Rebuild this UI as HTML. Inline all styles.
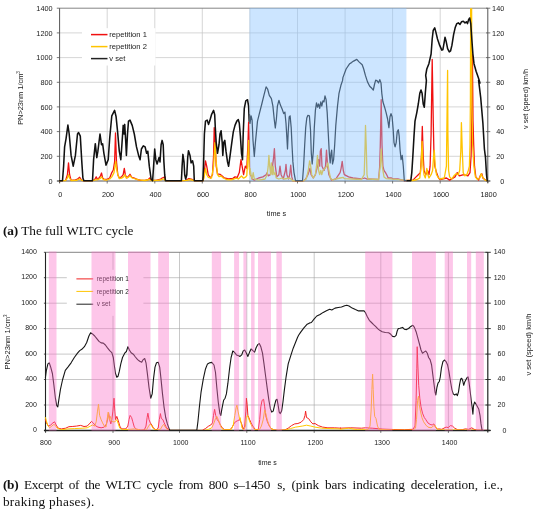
<!DOCTYPE html>
<html lang="en"><head><meta charset="utf-8"><title>WLTC cycle</title>
<style>
html,body{margin:0;padding:0;background:#fff}
body{width:550px;height:513px;overflow:hidden;position:relative}
svg{display:block;position:absolute;left:0;top:0}
.t{font-family:"Liberation Sans",sans-serif;fill:#1a1a1a}
.c{font-family:"Liberation Serif",serif;fill:#111}
</style></head><body>

<svg width="550" height="513" viewBox="0 0 550 513">
<rect x="0" y="0" width="550" height="513" fill="#fff"/>
<g id="chartA">
<line x1="59.6" y1="156.3" x2="487.8" y2="156.3" stroke="#c4c4c4" stroke-width="0.7"/>
<line x1="59.6" y1="131.6" x2="487.8" y2="131.6" stroke="#c4c4c4" stroke-width="0.7"/>
<line x1="59.6" y1="106.9" x2="487.8" y2="106.9" stroke="#c4c4c4" stroke-width="0.7"/>
<line x1="59.6" y1="82.3" x2="487.8" y2="82.3" stroke="#c4c4c4" stroke-width="0.7"/>
<line x1="59.6" y1="57.6" x2="487.8" y2="57.6" stroke="#c4c4c4" stroke-width="0.7"/>
<line x1="59.6" y1="32.9" x2="487.8" y2="32.9" stroke="#c4c4c4" stroke-width="0.7"/>
<line x1="107.2" y1="8.2" x2="107.2" y2="181.0" stroke="#c4c4c4" stroke-width="0.7"/>
<line x1="154.8" y1="8.2" x2="154.8" y2="181.0" stroke="#c4c4c4" stroke-width="0.7"/>
<line x1="202.3" y1="8.2" x2="202.3" y2="181.0" stroke="#c4c4c4" stroke-width="0.7"/>
<line x1="249.9" y1="8.2" x2="249.9" y2="181.0" stroke="#c4c4c4" stroke-width="0.7"/>
<line x1="297.5" y1="8.2" x2="297.5" y2="181.0" stroke="#c4c4c4" stroke-width="0.7"/>
<line x1="345.1" y1="8.2" x2="345.1" y2="181.0" stroke="#c4c4c4" stroke-width="0.7"/>
<line x1="392.6" y1="8.2" x2="392.6" y2="181.0" stroke="#c4c4c4" stroke-width="0.7"/>
<line x1="440.2" y1="8.2" x2="440.2" y2="181.0" stroke="#c4c4c4" stroke-width="0.7"/>
<line x1="59.6" y1="8.2" x2="487.8" y2="8.2" stroke="#777" stroke-width="0.9"/>
<rect x="82" y="28.2" width="73.5" height="37.3" fill="#fff"/>
<line x1="59.6" y1="8.2" x2="59.6" y2="183.0" stroke="#555" stroke-width="1"/>
<line x1="487.8" y1="8.2" x2="487.8" y2="183.0" stroke="#555" stroke-width="1"/>
<line x1="57.1" y1="181.0" x2="490.3" y2="181.0" stroke="#555" stroke-width="1.2"/>
<line x1="56.8" y1="181.0" x2="59.6" y2="181.0" stroke="#555" stroke-width="0.8"/>
<line x1="486.0" y1="181.0" x2="490.3" y2="181.0" stroke="#555" stroke-width="0.8"/>
<text class="t" x="52.6" y="183.6" font-size="7.3" text-anchor="end">0</text>
<text class="t" x="504.3" y="183.6" font-size="7.3" text-anchor="end">0</text>
<line x1="56.8" y1="156.3" x2="59.6" y2="156.3" stroke="#555" stroke-width="0.8"/>
<line x1="486.0" y1="156.3" x2="490.3" y2="156.3" stroke="#555" stroke-width="0.8"/>
<text class="t" x="52.6" y="158.9" font-size="7.3" text-anchor="end">200</text>
<text class="t" x="504.3" y="158.9" font-size="7.3" text-anchor="end">20</text>
<line x1="56.8" y1="131.6" x2="59.6" y2="131.6" stroke="#555" stroke-width="0.8"/>
<line x1="486.0" y1="131.6" x2="490.3" y2="131.6" stroke="#555" stroke-width="0.8"/>
<text class="t" x="52.6" y="134.2" font-size="7.3" text-anchor="end">400</text>
<text class="t" x="504.3" y="134.2" font-size="7.3" text-anchor="end">40</text>
<line x1="56.8" y1="106.9" x2="59.6" y2="106.9" stroke="#555" stroke-width="0.8"/>
<line x1="486.0" y1="106.9" x2="490.3" y2="106.9" stroke="#555" stroke-width="0.8"/>
<text class="t" x="52.6" y="109.5" font-size="7.3" text-anchor="end">600</text>
<text class="t" x="504.3" y="109.5" font-size="7.3" text-anchor="end">60</text>
<line x1="56.8" y1="82.3" x2="59.6" y2="82.3" stroke="#555" stroke-width="0.8"/>
<line x1="486.0" y1="82.3" x2="490.3" y2="82.3" stroke="#555" stroke-width="0.8"/>
<text class="t" x="52.6" y="84.9" font-size="7.3" text-anchor="end">800</text>
<text class="t" x="504.3" y="84.9" font-size="7.3" text-anchor="end">80</text>
<line x1="56.8" y1="57.6" x2="59.6" y2="57.6" stroke="#555" stroke-width="0.8"/>
<line x1="486.0" y1="57.6" x2="490.3" y2="57.6" stroke="#555" stroke-width="0.8"/>
<text class="t" x="52.6" y="60.2" font-size="7.3" text-anchor="end">1000</text>
<text class="t" x="504.3" y="60.2" font-size="7.3" text-anchor="end">100</text>
<line x1="56.8" y1="32.9" x2="59.6" y2="32.9" stroke="#555" stroke-width="0.8"/>
<line x1="486.0" y1="32.9" x2="490.3" y2="32.9" stroke="#555" stroke-width="0.8"/>
<text class="t" x="52.6" y="35.5" font-size="7.3" text-anchor="end">1200</text>
<text class="t" x="504.3" y="35.5" font-size="7.3" text-anchor="end">120</text>
<line x1="56.8" y1="8.2" x2="59.6" y2="8.2" stroke="#555" stroke-width="0.8"/>
<line x1="486.0" y1="8.2" x2="490.3" y2="8.2" stroke="#555" stroke-width="0.8"/>
<text class="t" x="52.6" y="10.8" font-size="7.3" text-anchor="end">1400</text>
<text class="t" x="504.3" y="10.8" font-size="7.3" text-anchor="end">140</text>
<line x1="59.6" y1="181.0" x2="59.6" y2="183.5" stroke="#555" stroke-width="0.8"/>
<text class="t" x="60.4" y="197.1" font-size="7.3" text-anchor="middle">0</text>
<line x1="107.2" y1="181.0" x2="107.2" y2="183.5" stroke="#555" stroke-width="0.8"/>
<text class="t" x="108.0" y="197.1" font-size="7.3" text-anchor="middle">200</text>
<line x1="154.8" y1="181.0" x2="154.8" y2="183.5" stroke="#555" stroke-width="0.8"/>
<text class="t" x="155.6" y="197.1" font-size="7.3" text-anchor="middle">400</text>
<line x1="202.3" y1="181.0" x2="202.3" y2="183.5" stroke="#555" stroke-width="0.8"/>
<text class="t" x="203.1" y="197.1" font-size="7.3" text-anchor="middle">600</text>
<line x1="249.9" y1="181.0" x2="249.9" y2="183.5" stroke="#555" stroke-width="0.8"/>
<text class="t" x="250.7" y="197.1" font-size="7.3" text-anchor="middle">800</text>
<line x1="297.5" y1="181.0" x2="297.5" y2="183.5" stroke="#555" stroke-width="0.8"/>
<text class="t" x="298.3" y="197.1" font-size="7.3" text-anchor="middle">1000</text>
<line x1="345.1" y1="181.0" x2="345.1" y2="183.5" stroke="#555" stroke-width="0.8"/>
<text class="t" x="345.9" y="197.1" font-size="7.3" text-anchor="middle">1200</text>
<line x1="392.6" y1="181.0" x2="392.6" y2="183.5" stroke="#555" stroke-width="0.8"/>
<text class="t" x="393.4" y="197.1" font-size="7.3" text-anchor="middle">1400</text>
<line x1="440.2" y1="181.0" x2="440.2" y2="183.5" stroke="#555" stroke-width="0.8"/>
<text class="t" x="441.0" y="197.1" font-size="7.3" text-anchor="middle">1600</text>
<line x1="487.8" y1="181.0" x2="487.8" y2="183.5" stroke="#555" stroke-width="0.8"/>
<text class="t" x="488.6" y="197.1" font-size="7.3" text-anchor="middle">1800</text>
<text class="t" x="276.5" y="215.6" font-size="7.3" text-anchor="middle">time s</text>
<text class="t" transform="translate(22.6,98) rotate(-90)" font-size="7.4" text-anchor="middle">PN&gt;23nm 1/cm<tspan font-size="4.6" dy="-2.6">3</tspan></text>
<text class="t" transform="translate(527.8,99) rotate(-90)" font-size="7.3" text-anchor="middle">v set (speed) km/h</text>
<clipPath id="clipA"><rect x="58.6" y="8.2" width="430.2" height="173.8"/></clipPath>
<g clip-path="url(#clipA)">
<polyline points="59.7,180.7 65.7,180.3 67.4,174.7 68.5,162.9 69.6,174.7 71.1,180.3 75.4,179.9 77.5,179.0 79.7,177.3 81.2,179.5 82.9,180.7 92.5,180.7 94.7,179.5 96.2,176.9 97.5,179.5 99.0,178.0 100.5,175.8 101.5,173.0 102.6,178.0 104.3,179.5 106.5,179.5 109.7,178.0 111.8,172.6 113.3,170.0 114.6,161.9 115.5,132.9 116.5,161.9 117.8,174.7 119.3,178.0 121.5,176.9 123.2,174.7 124.3,168.3 125.3,174.7 126.8,178.0 129.0,175.8 130.0,174.3 131.8,177.3 134.3,178.2 137.5,179.5 140.8,180.3 145.1,180.3 148.3,179.5 149.8,178.0 151.1,180.3 155.8,180.3 160.1,179.5 162.2,178.0 165.0,176.9 164.7,179.5 166.4,180.7 181.4,180.7 185.7,180.3 188.9,178.6 192.2,179.5 194.3,180.7 202.9,180.7 204.0,174.7 205.5,160.8 206.7,166.2 208.2,174.7 210.4,178.0 212.5,174.7 213.6,155.4 214.2,127.6 215.3,144.7 216.2,166.2 217.5,173.9 220.0,174.3 222.2,176.0 224.3,178.0 228.6,179.0 232.9,178.4 235.0,176.9 237.2,177.5 239.3,172.6 241.0,159.7 242.1,166.2 243.6,174.7 245.3,166.2 246.8,168.3 247.9,144.7 248.6,122.2 249.2,144.7 249.6,170.5 250.5,174.7 251.1,175.8 252.1,179.0 254.3,180.1 258.6,178.0 262.9,176.9 266.1,174.7 267.2,172.6 268.2,175.8 270.4,174.7 272.5,166.2 273.6,157.6 274.4,148.6 275.3,166.2 276.8,176.9 278.9,174.7 280.0,166.2 281.1,174.7 283.2,179.0 285.4,170.5 286.0,164.4 286.9,174.7 288.6,179.0 289.7,174.7 290.7,165.1 291.8,176.9 292.9,180.7 303.6,180.7 305.7,179.0 307.9,174.7 310.0,168.3 311.1,174.7 313.3,178.0 315.4,174.7 317.5,166.2 318.6,159.7 319.7,166.2 320.3,151.2 321.2,148.6 322.0,166.2 324.0,170.5 325.5,166.2 326.5,150.1 327.6,166.2 328.9,174.7 331.5,180.1 335.8,179.0 337.9,175.8 340.1,172.6 341.1,168.3 342.2,161.4 343.3,170.5 344.3,174.7 348.6,176.9 352.9,178.0 361.4,179.0 364.7,178.0 366.8,179.0 378.6,179.5 379.7,166.2 380.3,144.7 381.2,99.7 382.0,144.7 382.9,166.2 384.0,170.5 385.5,172.6 386.7,174.7 388.2,178.0 391.5,178.0 393.6,179.0 397.9,179.0 404.3,180.7 412.9,180.1 416.1,176.9 418.3,174.7 420.4,172.6 421.5,155.4 422.3,126.5 423.2,155.4 424.0,170.5 425.8,174.7 427.5,170.5 429.0,174.7 430.1,166.2 431.1,134.0 432.2,59.4 433.3,123.3 433.9,151.2 434.8,166.2 436.5,172.6 438.6,178.0 440.0,179.5 446.4,178.0 449.6,180.1 455.0,176.9 457.2,172.6 459.3,175.8 463.6,174.7 467.9,175.8 470.0,172.6 471.1,155.4 471.7,123.3 472.2,91.1 472.4,54.4 473.0,121.1 473.7,144.7 474.5,166.2 475.8,176.9 478.6,180.1 480.7,174.7 481.8,173.7 482.9,178.0 486.1,180.5" fill="none" stroke="#f01010" stroke-width="1.3" stroke-linejoin="round" stroke-linecap="round" />
<polyline points="59.7,180.7 65.7,180.5 67.4,178.0 68.5,174.7 69.6,178.0 71.1,180.5 76.4,180.3 79.7,179.0 81.8,180.3 83.9,180.7 92.5,180.7 95.7,179.9 97.9,179.5 100.0,178.6 101.5,176.9 103.2,179.5 106.5,180.1 109.7,179.0 111.8,176.9 114.0,172.6 115.0,166.2 115.7,161.4 116.5,168.3 117.8,174.7 119.3,178.6 121.9,178.0 123.6,176.9 124.9,174.7 126.2,178.0 128.3,177.3 130.0,175.8 132.2,178.0 135.4,179.0 138.6,179.9 145.1,180.5 149.3,179.5 151.5,180.5 157.9,180.3 162.2,179.5 165.0,178.6 164.7,180.1 166.4,180.7 181.4,180.7 186.8,180.3 190.0,179.5 194.3,180.7 202.9,180.7 204.0,178.0 205.5,168.3 206.7,174.7 208.2,177.3 211.5,178.2 213.6,166.2 214.9,142.6 216.2,161.9 217.5,174.7 219.0,176.5 221.1,176.0 223.3,178.0 226.5,179.5 230.8,179.9 234.0,179.0 236.1,178.2 238.3,179.0 241.5,176.0 243.6,178.2 245.8,176.9 246.8,175.6 247.9,155.4 248.6,140.4 249.2,166.2 250.1,174.7 250.0,168.3 251.1,174.7 252.1,179.0 253.2,172.6 254.3,179.0 258.6,180.1 265.0,179.0 267.2,174.7 268.2,166.2 268.9,155.4 269.7,166.2 270.6,174.7 271.4,162.9 272.3,174.7 273.2,166.2 274.0,174.7 275.3,172.6 276.2,178.0 278.9,179.0 282.2,178.0 284.3,179.0 289.7,178.0 292.9,180.7 303.6,180.7 306.2,179.0 308.3,170.5 309.6,160.8 310.7,166.2 311.7,174.7 313.3,178.0 315.4,174.7 316.5,166.2 317.5,155.4 318.6,170.5 319.7,174.7 320.8,170.5 321.8,174.7 322.9,170.5 325.0,168.3 326.8,166.2 327.8,162.9 328.9,170.5 330.4,178.0 332.5,180.1 335.8,179.0 340.1,178.0 343.3,177.3 344.3,178.6 361.4,179.5 364.2,174.7 365.1,144.7 365.5,125.4 366.2,144.7 367.0,174.7 367.9,179.0 378.6,179.5 380.3,166.2 381.2,149.0 382.2,166.2 384.0,176.9 386.1,178.6 404.3,180.1 412.9,180.5 417.2,179.5 419.8,178.0 421.0,166.2 422.1,141.5 423.0,166.2 424.0,174.7 425.3,178.0 426.8,168.3 427.9,174.7 429.0,178.0 431.1,174.7 432.6,170.5 433.7,155.4 434.3,150.1 435.2,166.2 436.5,174.7 438.6,178.0 440.0,179.0 444.3,178.0 446.4,166.2 447.6,70.5 447.9,134.0 448.6,170.5 449.6,176.9 451.8,179.0 453.9,175.8 456.1,173.7 458.2,174.7 459.7,170.5 460.8,151.2 461.4,122.6 462.3,151.2 463.2,172.6 464.7,175.8 466.8,174.7 468.3,170.5 469.4,166.2 470.0,144.7 470.4,101.8 470.7,0.4 471.6,0.4 471.9,101.8 472.6,144.7 473.9,166.2 475.4,176.9 477.5,179.5 479.7,178.0 481.2,173.7 482.5,176.9 485.0,180.1 487.2,180.7" fill="none" stroke="#ffc400" stroke-width="1.3" stroke-linejoin="round" stroke-linecap="round" />
</g>
<clipPath id="clipAo"><rect x="58.6" y="8.2" width="190.9" height="173.8"/><rect x="406.4" y="8.2" width="82.4" height="173.8"/></clipPath>
<clipPath id="clipAi"><rect x="249.5" y="8.2" width="156.9" height="173.8"/></clipPath>
<g clip-path="url(#clipAo)"><polyline points="59.7,180.7 62.5,180.7 63.6,166.2 64.6,146.9 66.1,138.3 67.9,125.0 69.2,134.0 71.1,155.4 73.2,166.2 75.4,155.4 77.5,134.0 78.6,132.5 80.3,136.1 81.8,161.9 82.9,178.0 83.9,180.7 92.5,180.7 93.6,159.7 95.3,143.7 96.8,157.6 97.9,151.2 100.0,134.0 101.5,144.7 102.6,143.7 103.9,153.3 106.0,165.1 108.2,159.7 109.7,138.3 111.8,115.8 114.6,110.4 116.1,116.8 117.6,131.9 119.3,151.2 120.8,159.7 121.9,144.7 123.2,125.4 124.0,134.0 124.7,124.4 125.8,142.6 126.4,155.4 127.5,134.0 128.5,121.1 130.0,120.1 132.2,125.4 134.3,134.0 136.5,146.9 138.6,155.4 140.1,159.7 141.4,149.0 143.3,145.8 145.1,146.9 146.6,153.3 147.8,151.2 149.3,166.2 151.1,179.0 152.6,180.7 153.6,166.2 154.7,149.0 155.8,159.7 157.1,164.0 159.0,157.6 160.0,161.9 161.1,144.7 162.1,140.4 163.2,144.7 163.9,161.9 164.7,174.7 165.4,180.7 181.4,180.7 182.1,166.2 182.9,154.4 184.0,161.9 184.7,174.7 185.7,179.0 186.8,174.7 187.7,157.6 188.5,150.7 190.0,155.4 191.1,162.9 192.6,160.8 193.7,166.2 194.3,180.7 202.9,180.7 203.5,166.2 204.4,134.0 205.5,121.1 207.2,120.1 208.5,124.4 209.7,121.1 211.5,114.7 213.6,110.4 214.7,114.7 215.3,127.6 216.2,142.6 217.5,153.3 219.0,144.7 220.0,134.0 221.1,130.8 222.2,142.6 222.8,155.4 223.7,142.6 224.8,140.4 226.0,151.2 227.5,161.9 228.6,166.2 230.1,155.4 231.8,142.6 233.3,131.9 235.0,125.4 236.8,121.1 238.3,119.6 239.3,123.3 240.4,136.1 241.5,153.3 242.5,159.7 243.2,134.0 244.3,108.3 245.8,100.8 247.5,99.7 248.6,106.1 249.2,121.1 249.6,114.7 250.0,123.3 251.1,115.8 252.1,120.1 253.0,140.4 254.3,156.5 255.4,142.6 257.5,121.1 259.6,112.6 261.8,104.0 263.9,95.4 266.1,86.8 267.6,89.0 269.3,95.4 271.4,98.6 272.9,106.1 274.2,119.0 275.3,128.0 276.4,119.0 277.4,106.1 278.9,100.3 280.4,105.1 282.2,109.3 283.7,113.6 284.9,112.1 286.0,123.3 286.9,138.3 287.5,149.0 288.2,131.9 289.2,116.8 290.1,115.8 291.2,127.6 292.0,144.7 292.9,161.9 294.0,172.6 295.5,180.7 302.5,180.7 303.6,166.2 304.7,144.7 305.7,127.6 306.8,117.9 307.9,115.3 309.4,115.8 310.5,129.7 311.3,153.3 312.2,164.0 313.3,151.2 314.3,127.6 315.4,110.4 316.5,102.9 317.5,107.2 318.6,104.0 319.7,108.3 320.8,101.8 321.8,106.1 322.9,100.8 324.0,101.8 325.0,95.8 326.1,99.7 327.2,112.6 328.3,134.0 329.3,153.3 330.2,162.9 331.0,153.3 331.7,150.1 332.5,164.0 333.6,159.7 334.7,144.7 335.8,125.4 337.5,106.1 339.0,93.3 341.1,84.7 342.6,80.4 342.9,77.6 346.1,69.0 349.7,63.7 351.5,62.6 353.6,61.1 356.8,59.4 359.0,61.9 362.2,64.7 363.7,69.0 365.4,75.4 367.5,81.9 369.7,86.2 371.8,88.3 373.3,90.0 374.6,84.0 375.7,80.2 377.2,80.8 378.5,82.9 379.8,79.7 381.0,82.9 381.8,93.3 382.9,101.8 384.6,107.2 386.1,112.6 387.6,119.0 388.9,127.6 390.0,116.8 391.0,113.6 392.1,116.8 393.2,129.7 394.0,142.6 395.1,146.9 396.2,142.6 397.2,131.9 398.3,129.7 399.2,136.1 400.0,149.0 401.1,159.7 402.2,155.4 403.3,166.2 404.3,180.7 410.8,180.7 411.8,172.6 412.9,155.4 414.0,136.1 415.0,121.1 416.8,112.6 418.3,104.0 419.8,93.3 421.0,90.0 422.1,93.3 423.2,104.0 424.3,107.2 425.3,93.3 426.4,80.4 425.7,75.4 426.8,69.0 428.9,63.7 431.1,54.0 432.2,39.0 433.2,30.4 434.7,27.8 436.0,32.6 437.5,39.0 439.7,45.4 441.8,50.1 442.9,49.7 444.0,43.3 445.0,37.3 446.1,41.1 447.6,48.6 449.3,51.9 450.6,50.8 451.9,45.4 453.6,34.7 455.3,27.2 456.8,23.6 458.3,22.9 460.0,24.4 461.5,21.8 463.3,21.2 465.0,22.9 466.5,21.8 467.5,23.6 468.6,19.7 469.7,18.0 470.8,24.0 471.8,39.0 472.9,54.0 474.0,63.7 476.1,71.2 478.3,77.6 480.0,82.9 478.6,80.4 480.7,97.6 482.9,123.3 484.4,149.0 485.5,157.6 486.5,174.7 487.2,180.7" fill="none" stroke="#111" stroke-width="1.55" stroke-linejoin="round" stroke-linecap="round" /></g>
<g clip-path="url(#clipAi)"><polyline points="59.7,180.7 62.5,180.7 63.6,166.2 64.6,146.9 66.1,138.3 67.9,125.0 69.2,134.0 71.1,155.4 73.2,166.2 75.4,155.4 77.5,134.0 78.6,132.5 80.3,136.1 81.8,161.9 82.9,178.0 83.9,180.7 92.5,180.7 93.6,159.7 95.3,143.7 96.8,157.6 97.9,151.2 100.0,134.0 101.5,144.7 102.6,143.7 103.9,153.3 106.0,165.1 108.2,159.7 109.7,138.3 111.8,115.8 114.6,110.4 116.1,116.8 117.6,131.9 119.3,151.2 120.8,159.7 121.9,144.7 123.2,125.4 124.0,134.0 124.7,124.4 125.8,142.6 126.4,155.4 127.5,134.0 128.5,121.1 130.0,120.1 132.2,125.4 134.3,134.0 136.5,146.9 138.6,155.4 140.1,159.7 141.4,149.0 143.3,145.8 145.1,146.9 146.6,153.3 147.8,151.2 149.3,166.2 151.1,179.0 152.6,180.7 153.6,166.2 154.7,149.0 155.8,159.7 157.1,164.0 159.0,157.6 160.0,161.9 161.1,144.7 162.1,140.4 163.2,144.7 163.9,161.9 164.7,174.7 165.4,180.7 181.4,180.7 182.1,166.2 182.9,154.4 184.0,161.9 184.7,174.7 185.7,179.0 186.8,174.7 187.7,157.6 188.5,150.7 190.0,155.4 191.1,162.9 192.6,160.8 193.7,166.2 194.3,180.7 202.9,180.7 203.5,166.2 204.4,134.0 205.5,121.1 207.2,120.1 208.5,124.4 209.7,121.1 211.5,114.7 213.6,110.4 214.7,114.7 215.3,127.6 216.2,142.6 217.5,153.3 219.0,144.7 220.0,134.0 221.1,130.8 222.2,142.6 222.8,155.4 223.7,142.6 224.8,140.4 226.0,151.2 227.5,161.9 228.6,166.2 230.1,155.4 231.8,142.6 233.3,131.9 235.0,125.4 236.8,121.1 238.3,119.6 239.3,123.3 240.4,136.1 241.5,153.3 242.5,159.7 243.2,134.0 244.3,108.3 245.8,100.8 247.5,99.7 248.6,106.1 249.2,121.1 249.6,114.7 250.0,123.3 251.1,115.8 252.1,120.1 253.0,140.4 254.3,156.5 255.4,142.6 257.5,121.1 259.6,112.6 261.8,104.0 263.9,95.4 266.1,86.8 267.6,89.0 269.3,95.4 271.4,98.6 272.9,106.1 274.2,119.0 275.3,128.0 276.4,119.0 277.4,106.1 278.9,100.3 280.4,105.1 282.2,109.3 283.7,113.6 284.9,112.1 286.0,123.3 286.9,138.3 287.5,149.0 288.2,131.9 289.2,116.8 290.1,115.8 291.2,127.6 292.0,144.7 292.9,161.9 294.0,172.6 295.5,180.7 302.5,180.7 303.6,166.2 304.7,144.7 305.7,127.6 306.8,117.9 307.9,115.3 309.4,115.8 310.5,129.7 311.3,153.3 312.2,164.0 313.3,151.2 314.3,127.6 315.4,110.4 316.5,102.9 317.5,107.2 318.6,104.0 319.7,108.3 320.8,101.8 321.8,106.1 322.9,100.8 324.0,101.8 325.0,95.8 326.1,99.7 327.2,112.6 328.3,134.0 329.3,153.3 330.2,162.9 331.0,153.3 331.7,150.1 332.5,164.0 333.6,159.7 334.7,144.7 335.8,125.4 337.5,106.1 339.0,93.3 341.1,84.7 342.6,80.4 342.9,77.6 346.1,69.0 349.7,63.7 351.5,62.6 353.6,61.1 356.8,59.4 359.0,61.9 362.2,64.7 363.7,69.0 365.4,75.4 367.5,81.9 369.7,86.2 371.8,88.3 373.3,90.0 374.6,84.0 375.7,80.2 377.2,80.8 378.5,82.9 379.8,79.7 381.0,82.9 381.8,93.3 382.9,101.8 384.6,107.2 386.1,112.6 387.6,119.0 388.9,127.6 390.0,116.8 391.0,113.6 392.1,116.8 393.2,129.7 394.0,142.6 395.1,146.9 396.2,142.6 397.2,131.9 398.3,129.7 399.2,136.1 400.0,149.0 401.1,159.7 402.2,155.4 403.3,166.2 404.3,180.7 410.8,180.7 411.8,172.6 412.9,155.4 414.0,136.1 415.0,121.1 416.8,112.6 418.3,104.0 419.8,93.3 421.0,90.0 422.1,93.3 423.2,104.0 424.3,107.2 425.3,93.3 426.4,80.4 425.7,75.4 426.8,69.0 428.9,63.7 431.1,54.0 432.2,39.0 433.2,30.4 434.7,27.8 436.0,32.6 437.5,39.0 439.7,45.4 441.8,50.1 442.9,49.7 444.0,43.3 445.0,37.3 446.1,41.1 447.6,48.6 449.3,51.9 450.6,50.8 451.9,45.4 453.6,34.7 455.3,27.2 456.8,23.6 458.3,22.9 460.0,24.4 461.5,21.8 463.3,21.2 465.0,22.9 466.5,21.8 467.5,23.6 468.6,19.7 469.7,18.0 470.8,24.0 471.8,39.0 472.9,54.0 474.0,63.7 476.1,71.2 478.3,77.6 480.0,82.9 478.6,80.4 480.7,97.6 482.9,123.3 484.4,149.0 485.5,157.6 486.5,174.7 487.2,180.7" fill="none" stroke="#111" stroke-width="1.25" stroke-linejoin="round" stroke-linecap="round" /></g>
<line x1="91" y1="34.6" x2="107.5" y2="34.6" stroke="#f01010" stroke-width="1.5"/>
<line x1="91" y1="46.6" x2="107.5" y2="46.6" stroke="#ffc400" stroke-width="1.5"/>
<line x1="91" y1="58.6" x2="107.5" y2="58.6" stroke="#222" stroke-width="1.5"/>
<text class="t" x="109.3" y="37.0" font-size="7.6">repetition 1</text>
<text class="t" x="109.3" y="49.0" font-size="7.6">repetition 2</text>
<text class="t" x="109.3" y="61.4" font-size="7.6">v set</text>
<rect x="249.5" y="7.9" width="156.9" height="173.3" fill="#8ac3ff" fill-opacity="0.44"/>
</g>
<g id="chartB">
<line x1="45.5" y1="405.0" x2="487.8" y2="405.0" stroke="#a2a2a2" stroke-width="0.6"/>
<line x1="45.5" y1="379.5" x2="487.8" y2="379.5" stroke="#a2a2a2" stroke-width="0.6"/>
<line x1="45.5" y1="354.1" x2="487.8" y2="354.1" stroke="#a2a2a2" stroke-width="0.6"/>
<line x1="45.5" y1="328.6" x2="487.8" y2="328.6" stroke="#a2a2a2" stroke-width="0.6"/>
<line x1="45.5" y1="303.2" x2="487.8" y2="303.2" stroke="#a2a2a2" stroke-width="0.6"/>
<line x1="45.5" y1="277.7" x2="487.8" y2="277.7" stroke="#a2a2a2" stroke-width="0.6"/>
<line x1="113.0" y1="252.3" x2="113.0" y2="430.4" stroke="#a2a2a2" stroke-width="0.6"/>
<line x1="179.5" y1="252.3" x2="179.5" y2="430.4" stroke="#a2a2a2" stroke-width="0.6"/>
<line x1="246.8" y1="252.3" x2="246.8" y2="430.4" stroke="#a2a2a2" stroke-width="0.6"/>
<line x1="314.2" y1="252.3" x2="314.2" y2="430.4" stroke="#a2a2a2" stroke-width="0.6"/>
<line x1="380.8" y1="252.3" x2="380.8" y2="430.4" stroke="#a2a2a2" stroke-width="0.6"/>
<line x1="448.4" y1="252.3" x2="448.4" y2="430.4" stroke="#a2a2a2" stroke-width="0.6"/>
<line x1="45.5" y1="252.3" x2="487.8" y2="252.3" stroke="#777" stroke-width="0.9"/>
<rect x="66.8" y="269.8" width="76.6" height="46" fill="#fff"/>
<line x1="45.5" y1="252.3" x2="45.5" y2="432.4" stroke="#222" stroke-width="1.1"/>
<line x1="487.8" y1="252.3" x2="487.8" y2="432.4" stroke="#222" stroke-width="1.2"/>
<line x1="44.0" y1="430.4" x2="490.3" y2="430.4" stroke="#222" stroke-width="1.2"/>
<line x1="43.9" y1="430.4" x2="45.5" y2="430.4" stroke="#222" stroke-width="0.8"/>
<line x1="485.4" y1="430.4" x2="490.8" y2="430.4" stroke="#222" stroke-width="0.9"/>
<text class="t" x="36.9" y="431.9" font-size="7.0" text-anchor="end">0</text>
<text class="t" x="506.3" y="433.1" font-size="7.0" text-anchor="end">0</text>
<line x1="43.9" y1="405.0" x2="45.5" y2="405.0" stroke="#222" stroke-width="0.8"/>
<line x1="485.4" y1="405.0" x2="490.8" y2="405.0" stroke="#222" stroke-width="0.9"/>
<text class="t" x="36.9" y="406.5" font-size="7.0" text-anchor="end">200</text>
<text class="t" x="505.4" y="406.8" font-size="7.0" text-anchor="end">20</text>
<line x1="43.9" y1="379.5" x2="45.5" y2="379.5" stroke="#222" stroke-width="0.8"/>
<line x1="485.4" y1="379.5" x2="490.8" y2="379.5" stroke="#222" stroke-width="0.9"/>
<text class="t" x="36.9" y="381.0" font-size="7.0" text-anchor="end">400</text>
<text class="t" x="505.4" y="381.3" font-size="7.0" text-anchor="end">40</text>
<line x1="43.9" y1="354.1" x2="45.5" y2="354.1" stroke="#222" stroke-width="0.8"/>
<line x1="485.4" y1="354.1" x2="490.8" y2="354.1" stroke="#222" stroke-width="0.9"/>
<text class="t" x="36.9" y="355.6" font-size="7.0" text-anchor="end">600</text>
<text class="t" x="505.4" y="355.9" font-size="7.0" text-anchor="end">60</text>
<line x1="43.9" y1="328.6" x2="45.5" y2="328.6" stroke="#222" stroke-width="0.8"/>
<line x1="485.4" y1="328.6" x2="490.8" y2="328.6" stroke="#222" stroke-width="0.9"/>
<text class="t" x="36.9" y="330.1" font-size="7.0" text-anchor="end">800</text>
<text class="t" x="505.4" y="330.4" font-size="7.0" text-anchor="end">80</text>
<line x1="43.9" y1="303.2" x2="45.5" y2="303.2" stroke="#222" stroke-width="0.8"/>
<line x1="485.4" y1="303.2" x2="490.8" y2="303.2" stroke="#222" stroke-width="0.9"/>
<text class="t" x="36.9" y="304.7" font-size="7.0" text-anchor="end">1000</text>
<text class="t" x="505.4" y="305.0" font-size="7.0" text-anchor="end">100</text>
<line x1="43.9" y1="277.7" x2="45.5" y2="277.7" stroke="#222" stroke-width="0.8"/>
<line x1="485.4" y1="277.7" x2="490.8" y2="277.7" stroke="#222" stroke-width="0.9"/>
<text class="t" x="36.9" y="279.2" font-size="7.0" text-anchor="end">1200</text>
<text class="t" x="505.4" y="279.5" font-size="7.0" text-anchor="end">120</text>
<line x1="43.9" y1="252.3" x2="45.5" y2="252.3" stroke="#222" stroke-width="0.8"/>
<line x1="485.4" y1="252.3" x2="490.8" y2="252.3" stroke="#222" stroke-width="0.9"/>
<text class="t" x="36.9" y="253.8" font-size="7.0" text-anchor="end">1400</text>
<text class="t" x="505.4" y="254.1" font-size="7.0" text-anchor="end">140</text>
<line x1="45.6" y1="430.4" x2="45.6" y2="432.9" stroke="#555" stroke-width="0.8"/>
<text class="t" x="45.9" y="445.2" font-size="7.0" text-anchor="middle">800</text>
<line x1="113.0" y1="430.4" x2="113.0" y2="432.9" stroke="#555" stroke-width="0.8"/>
<text class="t" x="114.2" y="445.2" font-size="7.0" text-anchor="middle">900</text>
<line x1="179.5" y1="430.4" x2="179.5" y2="432.9" stroke="#555" stroke-width="0.8"/>
<text class="t" x="180.7" y="445.2" font-size="7.0" text-anchor="middle">1000</text>
<line x1="246.8" y1="430.4" x2="246.8" y2="432.9" stroke="#555" stroke-width="0.8"/>
<text class="t" x="248.0" y="445.2" font-size="7.0" text-anchor="middle">1100</text>
<line x1="314.2" y1="430.4" x2="314.2" y2="432.9" stroke="#555" stroke-width="0.8"/>
<text class="t" x="315.4" y="445.2" font-size="7.0" text-anchor="middle">1200</text>
<line x1="380.8" y1="430.4" x2="380.8" y2="432.9" stroke="#555" stroke-width="0.8"/>
<text class="t" x="382.0" y="445.2" font-size="7.0" text-anchor="middle">1300</text>
<line x1="448.4" y1="430.4" x2="448.4" y2="432.9" stroke="#555" stroke-width="0.8"/>
<text class="t" x="449.6" y="445.2" font-size="7.0" text-anchor="middle">1400</text>
<text class="t" x="267.5" y="465" font-size="7" text-anchor="middle">time s</text>
<text class="t" transform="translate(9.7,342) rotate(-90)" font-size="7.6" text-anchor="middle">PN&gt;23nm 1/cm<tspan font-size="4.5" dy="-2.6">3</tspan></text>
<text class="t" transform="translate(531.1,344.5) rotate(-90)" font-size="7.55" text-anchor="middle">v set (speed) km/h</text>
<polyline points="45.4,419.6 46.4,422.9 48.6,426.1 50.7,425.0 52.9,422.9 54.6,421.8 56.1,425.0 58.2,428.2 61.4,428.9 65.7,428.2 68.9,426.7 72.2,426.5 76.4,426.1 80.7,425.4 84.0,426.5 87.2,426.1 89.3,423.9 91.5,421.4 93.2,422.9 95.3,425.6 97.9,427.1 101.1,427.8 104.3,427.1 106.5,423.9 107.5,419.6 108.6,412.8 109.7,419.6 110.8,423.9 111.8,419.6 112.9,411.1 114.0,398.2 114.8,411.1 115.5,419.6 116.8,416.4 118.3,420.7 119.8,426.1 121.5,428.9 125.8,428.9 127.9,426.1 129.0,419.6 130.1,415.4 131.6,417.5 132.8,421.8 134.3,427.1 136.5,429.3 139.9,429.7 140.0,430.4 144.3,429.9 146.0,426.1 147.1,417.5 147.9,413.2 149.0,419.6 150.3,422.9 151.8,425.0 153.5,428.2 156.1,429.9 158.2,428.2 159.3,419.6 160.4,413.6 161.4,418.6 162.9,419.6 164.2,422.9 166.2,427.1 168.9,429.9 170.0,430.4 202.2,430.4 205.4,428.6 208.6,426.1 210.8,425.0 212.5,422.9 213.5,415.4 214.6,409.3 215.7,415.4 217.2,419.6 218.9,421.8 220.4,425.0 222.5,428.2 224.7,429.7 230.1,429.7 232.2,427.1 233.9,423.9 235.4,421.8 237.6,420.7 239.7,419.6 241.7,423.9 243.2,429.3 244.7,426.1 245.8,411.1 246.4,398.2 247.1,404.6 247.9,415.4 249.6,419.6 251.1,422.9 252.9,426.1 255.0,429.3 258.2,429.9 259.7,419.6 260.8,406.8 262.1,400.3 263.6,399.3 264.7,406.8 265.7,415.4 267.4,421.8 269.4,426.1 271.1,428.6 274.3,429.9 278.6,430.4 285.0,429.9 288.2,428.2 291.5,425.6 294.7,423.9 297.9,423.5 301.1,422.2 303.7,419.6 305.0,415.4 305.6,411.1 306.5,417.5 308.6,418.6 310.8,421.8 312.9,423.9 315.0,423.5 318.3,425.6 322.5,427.1 327.9,427.8 334.3,427.8 340.8,428.2 340.0,428.2 350.7,427.8 361.4,428.2 365.7,427.8 372.2,428.2 382.9,429.1 393.6,429.5 404.3,429.7 412.9,429.3 415.0,426.1 416.1,400.3 416.8,368.2 417.2,346.7 417.8,363.9 418.7,385.3 419.8,398.2 421.0,406.8 422.5,413.2 424.3,417.5 425.8,419.6 427.9,422.9 430.1,424.4 432.2,425.0 433.9,423.9 435.4,427.1 437.6,429.3 438.6,428.9 441.8,429.3 443.9,428.2 446.1,427.1 448.2,427.6 450.4,425.6 452.5,426.1 454.7,428.2 457.9,429.9 462.2,429.7 465.4,428.9 468.6,429.3 471.8,427.8 474.0,429.3 477.2,430.1 487.9,430.4" fill="none" stroke="#f52020" stroke-width="1.0" stroke-linejoin="round" stroke-linecap="round" />
<polyline points="45.4,417.5 46.4,420.7 47.5,425.0 49.6,427.8 51.8,426.1 53.9,424.4 55.4,425.6 57.2,428.2 61.4,429.7 67.9,428.9 74.3,428.6 82.9,428.2 87.2,427.8 90.4,426.1 92.5,425.0 94.7,426.1 96.2,421.8 97.5,411.1 98.5,404.2 99.6,415.4 101.1,419.6 102.6,422.9 104.3,426.1 106.0,427.1 107.1,419.6 108.2,412.1 109.3,419.6 110.3,416.4 111.4,420.7 112.9,421.8 115.0,421.8 116.8,419.6 118.3,423.9 119.8,428.2 122.5,429.7 130.1,429.3 134.3,428.9 139.9,429.7 140.0,430.4 146.4,429.9 148.6,426.1 150.3,423.9 151.8,426.1 153.3,428.6 156.1,430.1 160.4,429.3 162.5,425.6 163.6,424.4 165.3,427.1 167.4,429.7 170.0,430.4 204.3,430.4 208.6,429.3 211.8,427.8 214.0,422.9 215.5,418.6 216.8,416.4 218.3,419.6 219.8,423.9 221.5,428.2 223.6,429.9 231.1,429.7 233.3,425.0 234.8,415.4 236.1,407.8 236.9,405.1 238.0,411.1 239.3,417.5 239.9,419.6 240.0,417.5 241.1,422.9 242.1,428.2 243.9,429.9 245.4,426.1 246.4,417.5 247.5,415.4 248.6,418.6 250.3,422.9 252.4,427.1 255.0,429.7 259.3,429.9 261.4,426.1 263.2,419.6 264.7,410.0 265.7,413.2 267.2,419.6 268.9,425.0 271.1,428.6 274.3,430.1 285.0,430.1 290.4,428.6 295.7,427.1 302.2,426.1 306.5,425.2 310.8,426.1 315.0,427.1 321.5,428.2 330.1,428.6 339.9,428.9 340.0,429.3 348.6,428.2 357.2,429.7 367.9,429.7 370.0,426.1 371.1,411.1 371.9,389.6 372.6,374.2 373.2,389.6 373.9,406.8 374.7,416.4 376.0,418.6 377.5,426.1 379.0,429.3 393.6,430.1 412.9,430.1 415.5,428.2 416.5,419.6 417.6,400.3 418.5,396.1 419.3,404.6 420.4,411.1 421.9,417.5 423.6,421.8 425.8,425.0 427.9,427.1 431.1,427.8 433.3,426.1 434.8,425.0 436.5,428.2 438.6,429.9 440.7,429.9 482.1,430.1" fill="none" stroke="#ffc800" stroke-width="1.0" stroke-linejoin="round" stroke-linecap="round" />
<polyline points="45.4,377.8 46.4,370.3 47.9,363.9 49.2,362.8 50.7,367.1 52.4,373.5 53.9,385.3 55.4,398.2 56.7,405.7 57.8,406.8 58.9,399.3 60.4,389.6 62.5,380.0 65.3,370.3 67.9,367.1 71.1,362.8 74.3,357.5 77.5,353.2 79.7,350.6 81.8,349.3 84.4,346.7 86.7,342.5 88.9,336.0 90.6,332.8 92.5,333.9 94.7,336.0 96.8,338.6 99.0,341.4 101.1,342.9 103.3,343.1 105.4,345.0 107.5,347.8 109.7,350.6 111.8,352.7 113.3,357.5 114.4,366.0 115.5,373.5 116.8,377.2 118.0,376.3 119.3,371.4 120.8,363.9 122.5,357.5 124.7,353.2 126.4,351.5 127.9,346.7 129.4,350.0 131.1,352.7 133.3,354.2 135.4,357.0 137.6,359.6 139.7,361.3 141.7,362.2 143.2,359.6 144.7,358.5 146.0,362.8 147.5,374.6 149.0,387.5 150.7,398.2 152.2,393.9 153.5,378.9 155.0,367.1 156.5,362.8 158.2,362.2 159.7,367.1 161.0,378.9 162.5,393.9 164.0,406.8 165.7,417.5 167.4,423.9 168.9,428.2 170.0,430.4 196.8,430.4 197.9,421.8 199.4,406.8 201.1,391.8 203.3,378.9 205.4,369.3 207.5,363.9 209.7,362.8 211.8,362.4 214.0,365.0 215.5,372.5 216.8,387.5 218.3,402.5 219.8,413.2 220.8,415.4 221.9,408.9 223.6,400.3 225.1,398.2 226.4,393.9 227.9,383.2 229.6,368.2 231.1,357.5 232.8,351.0 234.3,352.1 236.5,354.9 238.6,355.7 240.0,356.4 241.7,354.9 243.2,351.0 244.7,350.0 246.4,353.2 247.9,356.4 249.6,352.1 251.1,348.9 252.9,350.6 254.6,352.1 256.1,347.8 257.8,344.6 259.3,343.5 260.8,346.7 262.5,353.2 264.0,363.9 265.7,376.8 267.4,389.6 268.9,400.3 270.4,408.9 271.7,412.1 273.2,411.1 274.7,404.6 276.0,399.9 277.1,399.3 278.2,405.7 279.2,412.1 280.3,413.6 281.6,411.1 282.9,402.5 284.4,389.6 286.1,376.8 288.2,363.9 291.1,354.6 293.2,348.2 295.4,342.8 297.5,337.5 298.6,335.3 300.7,332.1 303.9,327.8 307.2,324.2 309.7,322.9 311.4,322.5 314.0,319.2 316.8,316.0 320.0,314.5 323.2,312.4 326.4,310.7 329.7,309.2 331.8,310.0 335.0,308.1 338.2,307.5 341.5,307.0 344.7,305.7 346.8,305.3 349.0,306.0 352.2,308.1 355.4,309.6 358.6,310.9 361.8,310.9 364.0,310.7 365.5,312.8 367.2,316.5 369.3,320.3 371.5,322.5 373.6,324.6 375.8,326.7 377.9,328.9 380.1,330.6 382.2,331.7 385.4,332.5 388.6,332.8 390.8,334.3 392.5,336.4 394.4,336.8 396.1,335.3 397.2,331.0 398.3,328.5 400.0,328.3 402.6,327.4 404.3,329.2 406.5,329.6 408.6,328.5 410.8,326.4 412.9,325.3 414.4,327.4 416.1,331.7 417.6,337.1 419.3,343.5 421.0,350.0 422.5,353.2 424.0,352.1 425.8,351.0 427.3,353.2 428.6,357.5 430.1,359.6 431.6,365.0 432.8,374.6 433.9,383.2 435.0,391.8 435.8,395.0 436.9,387.5 438.0,383.2 439.3,381.5 440.3,376.8 441.4,368.2 442.9,361.7 444.4,360.0 446.1,361.7 447.6,365.0 448.9,371.4 450.4,381.0 451.9,389.6 453.2,393.9 454.7,395.0 456.2,393.9 457.4,395.6 458.5,391.8 459.6,384.3 460.7,378.9 461.7,378.3 462.8,381.0 463.7,385.3 464.7,382.1 465.8,380.0 466.9,377.8 468.0,376.8 469.0,382.1 470.1,390.7 471.2,400.3 472.2,407.8 472.9,414.3 473.5,405.7 474.6,402.1 475.7,403.6 477.2,406.3 478.7,408.9 480.0,415.4 481.0,423.9 482.1,430.4" fill="none" stroke="#151515" stroke-width="1.1" stroke-linejoin="round" stroke-linecap="round" />
<line x1="44.0" y1="430.6" x2="490.3" y2="430.6" stroke="#222" stroke-width="1.1"/>
<line x1="76.4" y1="278.9" x2="93.2" y2="278.9" stroke="#f02020" stroke-width="1"/>
<line x1="76.4" y1="291.4" x2="93.2" y2="291.4" stroke="#ffc400" stroke-width="1"/>
<line x1="76.4" y1="304.2" x2="93.2" y2="304.2" stroke="#222" stroke-width="1"/>
<text class="t" x="96.7" y="281.1" font-size="6.5">repetition 1</text>
<text class="t" x="96.7" y="293.7" font-size="6.5">repetition 2</text>
<text class="t" x="96.7" y="306.4" font-size="6.5">v set</text>
<rect x="48.8" y="251.5" width="7.7" height="179.2" fill="#fa70c8" fill-opacity="0.40"/>
<rect x="91.5" y="251.5" width="24.0" height="179.2" fill="#fa70c8" fill-opacity="0.40"/>
<rect x="128.0" y="251.5" width="22.5" height="179.2" fill="#fa70c8" fill-opacity="0.40"/>
<rect x="158.2" y="251.5" width="10.8" height="179.2" fill="#fa70c8" fill-opacity="0.40"/>
<rect x="211.8" y="251.5" width="9.3" height="179.2" fill="#fa70c8" fill-opacity="0.40"/>
<rect x="234.1" y="251.5" width="5.0" height="179.2" fill="#fa70c8" fill-opacity="0.40"/>
<rect x="243.4" y="251.5" width="3.1" height="179.2" fill="#fa70c8" fill-opacity="0.40"/>
<rect x="251.1" y="251.5" width="3.5" height="179.2" fill="#fa70c8" fill-opacity="0.40"/>
<rect x="258.0" y="251.5" width="13.0" height="179.2" fill="#fa70c8" fill-opacity="0.40"/>
<rect x="276.4" y="251.5" width="5.4" height="179.2" fill="#fa70c8" fill-opacity="0.40"/>
<rect x="365.2" y="251.5" width="27.2" height="179.2" fill="#fa70c8" fill-opacity="0.40"/>
<rect x="412.0" y="251.5" width="23.9" height="179.2" fill="#fa70c8" fill-opacity="0.40"/>
<rect x="444.7" y="251.5" width="8.2" height="179.2" fill="#fa70c8" fill-opacity="0.40"/>
<rect x="467.0" y="251.5" width="4.2" height="179.2" fill="#fa70c8" fill-opacity="0.40"/>
<rect x="475.8" y="251.5" width="8.0" height="179.2" fill="#fa70c8" fill-opacity="0.40"/>
</g>
<text class="c" x="2.9" y="234.8" font-size="13.3" textLength="130.6" lengthAdjust="spacing"><tspan font-weight="bold">(a)</tspan> The full WLTC cycle</text>
<text class="c" x="3.0" y="488.7" font-size="13.3" word-spacing="2.6" textLength="267.3" lengthAdjust="spacing"><tspan font-weight="bold">(b)</tspan> Excerpt of the WLTC cycle from 800 s–1450</text>
<text class="c" x="277.2" y="488.7" font-size="13.3" word-spacing="2.6" textLength="225.8" lengthAdjust="spacing">s, (pink bars indicating deceleration, i.e.,</text>
<text class="c" x="2.9" y="506.2" font-size="13.3" textLength="91.4" lengthAdjust="spacing">braking phases).</text>
</svg>
</body></html>
